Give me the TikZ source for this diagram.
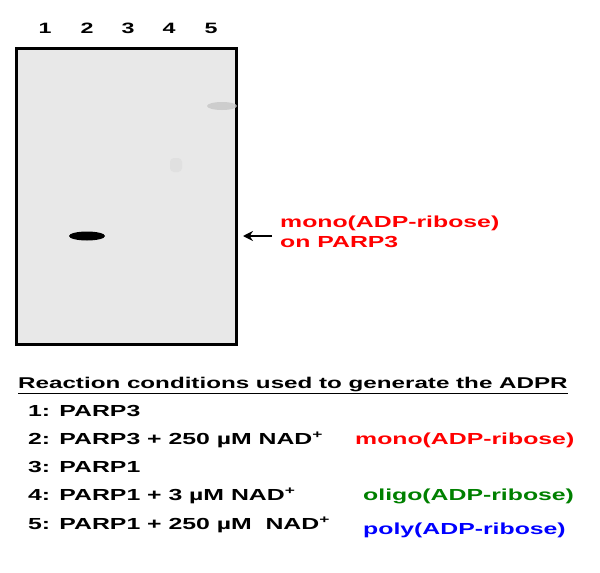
\documentclass[tikz,border=0pt]{standalone}
\usepackage{fontspec}
\usetikzlibrary{shapes.geometric,arrows.meta}
\setmainfont{Liberation Sans}
\newfontfamily\widefont[FakeStretch=1.55]{Liberation Sans}
\begin{document}
\begin{tikzpicture}[x=1pt,y=-1pt,
  lbl/.style={font=\widefont\bfseries\fontsize{16}{20}\selectfont,inner sep=0,anchor=west},
  num/.style={font=\widefont\bfseries\fontsize{15}{17}\selectfont,inner sep=0}]
\useasboundingbox[fill=white] (0,0) rectangle (600,573);
\node[draw=black,line width=2.5pt,fill=black!9,minimum width=220pt,minimum height=296pt,anchor=north west,inner sep=0] (blot) at (15,47) {};
\foreach \i/\x in {1/45,2/87,3/128,4/169,5/211}
  \node[num] (n\i) at (\x,28) {\i};
\node[fill=black,ellipse,minimum width=36pt,minimum height=9pt,inner sep=0] (band) at (87,236) {};
\node[fill=black!22,opacity=0.8,ellipse,minimum width=30pt,minimum height=8pt,inner sep=0] (b5) at (222,106) {};
\node[fill=black!12,minimum width=12pt,minimum height=14pt,inner sep=0,rounded corners=4pt] (b4) at (176,165) {};
\node[lbl,text=red,align=left] (lab) at (280,232) {mono(ADP-ribose)\\on PARP3};
\draw[line width=2.5pt,-{Stealth[length=10pt,width=10pt]}] (lab.west)++(-8,4) coordinate (a0) -- ++(-29,0) coordinate (a1);
\node[font=\widefont\bfseries\fontsize{15.6}{19}\selectfont,inner sep=0,anchor=west] (title) at (18,385) {\underline{Reaction conditions used to generate the ADPR}};
\node[lbl] (r1) at (28,411) {1: PARP3};
\node[lbl] (r2) at (28,440) {2: PARP3 + 250 µM NAD\textsuperscript{+}};
\node[lbl] (r3) at (28,467) {3: PARP1};
\node[lbl] (r4) at (28,496) {4: PARP1 + 3 µM NAD\textsuperscript{+}};
\node[lbl] (r5) at (28,525) {5: PARP1 + 250 µM~ NAD\textsuperscript{+}};
\node[lbl,text=red] (m) at (355,440) {mono(ADP-ribose)};
\node[lbl,text=green!50!black] (o) at (363,496) {oligo(ADP-ribose)};
\node[lbl,text=blue] (p) at (363,530) {poly(ADP-ribose)};
\end{tikzpicture}
\end{document}
